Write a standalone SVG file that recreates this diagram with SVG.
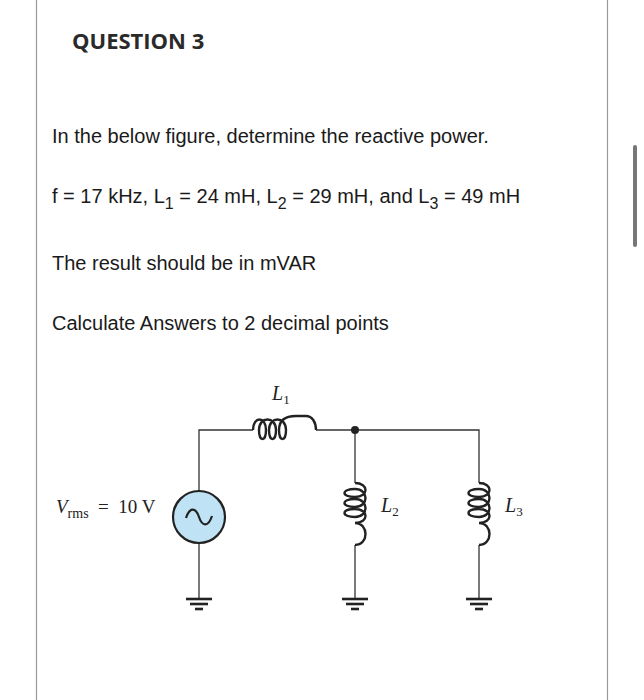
<svg xmlns="http://www.w3.org/2000/svg" width="644" height="700" viewBox="0 0 644 700">
<style>
.t{font-family:"Liberation Sans",Arial,sans-serif;font-size:20px;fill:#1a1a1a}
.s{font-family:"Liberation Serif","Times New Roman",serif;fill:#222}
.w{stroke:#333;stroke-width:1.3;fill:none}
.c{stroke:#222;stroke-width:2.4;fill:none}
.g{stroke:#222;stroke-width:2.6}
</style>
<defs>
<g id="gnd"><line class="g" x1="-13" y1="0" x2="13" y2="0"/><line class="g" x1="-9" y1="5" x2="9" y2="5"/><line class="g" x1="-4" y1="10" x2="4" y2="10"/></g>
<path id="vcoil" class="c" d="M0,0 C14,0 14,14 0,14 C-14,14 -14,6 0,6 C14,6 14,24 0,24 C-14,24 -14,16 0,16 C14,16 14,34 0,34 C-14,34 -14,26 0,26 C14,26 14,40 0,40 M0,40 C14,40 14,62 0,62"/>
</defs>
<rect x="0" y="0" width="644" height="700" fill="#fff"/>
<line x1="36.5" y1="0" x2="36.5" y2="700" stroke="#999" stroke-width="1.2"/>
<line x1="607.5" y1="0" x2="607.5" y2="700" stroke="#999" stroke-width="1.2"/>
<rect x="633" y="145" width="4" height="102" rx="2" fill="#777"/>
<g id="text">
<text x="72" y="49" font-family="'Open Sans',sans-serif" font-weight="bold" font-size="22" fill="#2a2a2a">QUESTION 3</text>
<text class="t" x="52" y="143">In the below figure, determine the reactive power.</text>
<text class="t" x="52" y="203">f = 17 kHz, L<tspan font-size="16" dy="6">1</tspan><tspan dy="-6"> = 24 mH, L</tspan><tspan font-size="16" dy="6">2</tspan><tspan dy="-6"> = 29 mH, and L</tspan><tspan font-size="16" dy="6">3</tspan><tspan dy="-6"> = 49 mH</tspan></text>
<text class="t" x="52" y="270">The result should be in mVAR</text>
<text class="t" x="52" y="330">Calculate Answers to 2 decimal points</text>
</g>
<g id="connectors">
<polyline class="w" points="199,491 199,430 253,430"/>
<polyline class="w" points="316,430 479,430 479,483"/>
<line class="w" x1="355" y1="430" x2="355" y2="483"/>
<line class="w" x1="199" y1="543" x2="199" y2="599"/>
<line class="w" x1="355" y1="545" x2="355" y2="599"/>
<line class="w" x1="479" y1="545" x2="479" y2="599"/>
<circle cx="355" cy="430" r="4" fill="#222"/>
</g>
<g id="L1">
<path class="c" d="M253,430 C253,416 266,416 266,430 C266,442 259,442 259,430 C259,416 276,416 276,430 C276,442 269,442 269,430 C269,416 286,416 286,430 C286,442 279,442 279,430 C279,416 292,416 296,416 L306,416 C312,416 316,422 316,430"/>
<text class="s" x="272" y="400" font-size="20" font-style="italic">L<tspan font-size="13" font-style="normal" dy="4">1</tspan></text>
</g>
<g id="L2">
<use href="#vcoil" x="355" y="483"/>
<text class="s" x="381" y="512" font-size="20" font-style="italic">L<tspan font-size="13" font-style="normal" dy="4">2</tspan></text>
</g>
<g id="L3">
<use href="#vcoil" x="479" y="483"/>
<text class="s" x="505" y="512" font-size="20" font-style="italic">L<tspan font-size="13" font-style="normal" dy="4">3</tspan></text>
</g>
<g id="source">
<circle cx="199" cy="517" r="26" fill="#bfe3f5" stroke="#222" stroke-width="2.2"/>
<path d="M186,518 C190,506 196,508 199,517 C202,526 208,528 212,516" stroke="#222" stroke-width="2.2" fill="none"/>
<text class="s" x="56" y="513" font-size="19"><tspan font-style="italic">V</tspan><tspan font-size="14" dy="5">rms</tspan><tspan dy="-5" xml:space="preserve">  =  10 V</tspan></text>
</g>
<g id="grounds">
<use href="#gnd" x="199" y="599"/>
<use href="#gnd" x="355" y="599"/>
<use href="#gnd" x="479" y="599"/>
</g>
</svg>
